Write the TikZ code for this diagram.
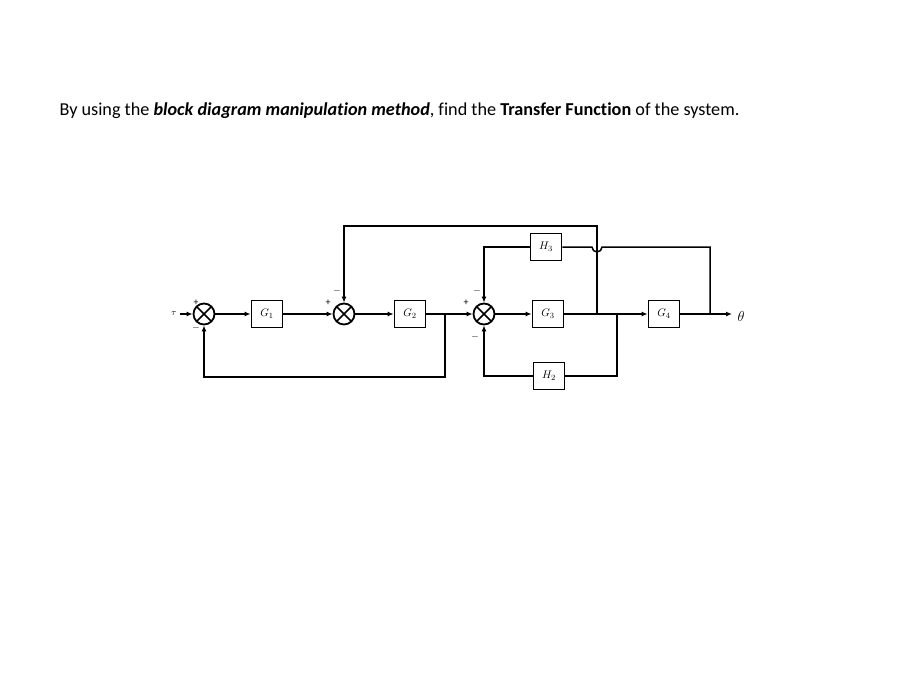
\documentclass[tikz,border=0pt]{standalone}
\usepackage{fontspec}
\setmainfont{Carlito}[Ligatures={NoCommon}]
\usetikzlibrary{arrows.meta}
\begin{document}
\begin{tikzpicture}[x=1pt,y=-1pt,
  blk/.style={draw,line width=1.8pt,minimum width=31pt,minimum height=27pt,inner sep=0pt,font=\fontsize{11}{11}\selectfont},
  sumj/.style={draw,circle,line width=1.8pt,minimum size=21pt,inner sep=0pt,path picture={\draw[line width=1.6pt] (path picture bounding box.north west)--(path picture bounding box.south east) (path picture bounding box.north east)--(path picture bounding box.south west);}},
  ln/.style={line width=1.5pt},
  ar/.style={line width=1.5pt,-{Latex[length=6pt,width=5pt]}},
  sg/.style={font=\fontsize{10}{10}\selectfont,inner sep=0pt}]
\useasboundingbox (0,0) rectangle (904,674);
\node[anchor=west,font=\fontsize{18.2}{20}\selectfont] (title) at (56,111) {By using the \textbf{\textit{block diagram manipulation method}}, find the \textbf{Transfer Function} of the system.};
\node (tau) at (174,314) {\fontsize{9}{9}\selectfont$\tau$};
\node[sumj] (s1) at (204,314) {};
\node[blk] (g1) at (267,314) {$G_1$};
\node[sumj] (s2) at (344,314) {};
\node[blk] (g2) at (410,314) {$G_2$};
\node[sumj] (s3) at (484,314) {};
\node[blk] (g3) at (548,314) {$G_3$};
\node[blk] (g4) at (664,314) {$G_4$};
\node[blk] (h3) at (546,247) {$H_3$};
\node[blk] (h2) at (549,376) {$H_2$};
\node (th) at (741,316) {\fontsize{15}{15}\selectfont$\theta$};
\coordinate (b1) at (445,314);
\coordinate (b2) at (597,314);
\coordinate (b3) at (617,314);
\coordinate (b4) at (710,314);
\coordinate (out) at (732,314);
\draw[ar] (tau.east)--(s1);
\draw[ar] (s1)--(g1);
\draw[ar] (g1)--(s2);
\draw[ar] (s2)--(g2);
\draw[ar] (g2)--(s3);
\draw[ar] (s3)--(g3);
\draw[ar] (g3)--(g4);
\draw[ar] (g4)--(out);
\draw[ar] (b1)--(445,377)--(204,377)--(s1.south);
\draw[ar] (b2)--(597,226)--(344,226)--(s2.north);
\draw[ln] (h3.east)--(592,247) arc[start angle=180,end angle=0,radius=5] -- (710,247)--(b4);
\draw[ar] (h3.west)--(484,247)--(s3.north);
\draw[ln] (b3)--(617,376)--(h2.east);
\draw[ar] (h2.west)--(484,376)--(s3.south);
\node[sg] at (196,303) {+};
\node[sg] at (196,328) {$-$};
\node[sg] at (328,303) {+};
\node[sg] at (337,291) {$-$};
\node[sg] at (466,303) {+};
\node[sg] at (477,291) {$-$};
\node[sg] at (475,337) {$-$};
\end{tikzpicture}
\end{document}
